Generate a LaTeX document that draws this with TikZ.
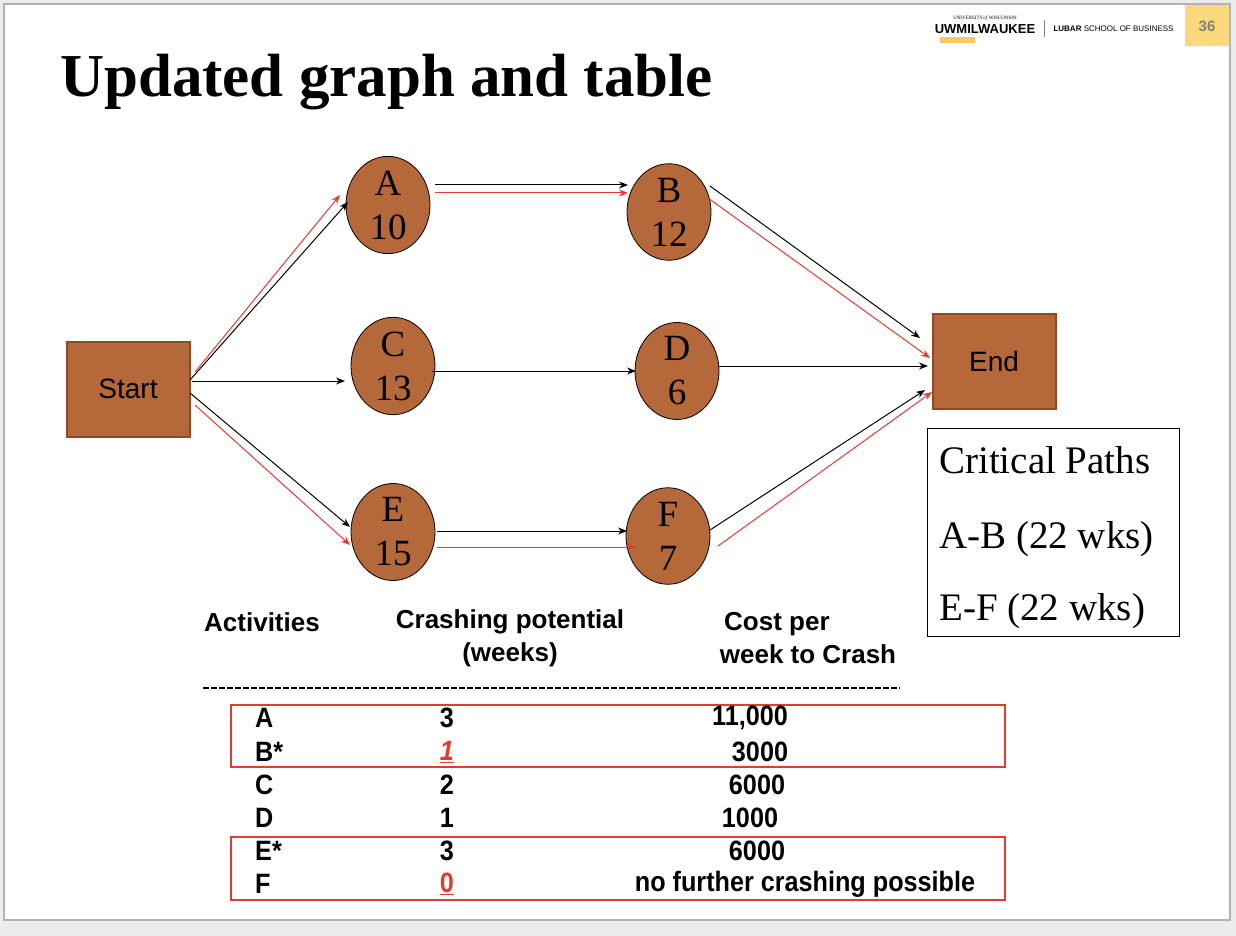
\documentclass[tikz,border=0pt]{standalone}
\usepackage{fontspec}
\setmainfont{Liberation Serif}
\setsansfont{Liberation Sans}
\newfontfamily\narrow[FakeStretch=0.9]{Liberation Sans}
\usetikzlibrary{arrows.meta,shapes.geometric}
\definecolor{brn}{HTML}{B5693A}
\definecolor{brd}{HTML}{8B4A2A}
\definecolor{rd}{HTML}{E8392F}
\definecolor{yel}{HTML}{F9D97A}
\tikzset{
 act/.style={ellipse,draw=black,thick,fill=brn,minimum width=84pt,minimum height=92pt,inner sep=0pt,align=center,font=\fontsize{37}{44}\selectfont},
 term/.style={rectangle,draw=brd,line width=2pt,fill=brn,minimum width=123pt,minimum height=95pt,font=\sffamily\fontsize{28}{30}\selectfont},
 blk/.style={-{Stealth[length=9pt,width=7pt]},line width=1pt},
 red/.style={-{Stealth[length=9pt,width=7pt]},line width=1pt,draw=rd,color=rd},
 hd/.style={font=\sffamily\bfseries\fontsize{26}{33}\selectfont,align=center},
 tb/.style={font=\narrow\bfseries\fontsize{28}{30}\selectfont,inner sep=0pt},
}
\begin{document}
\begin{tikzpicture}[x=1pt,y=-1pt]
\useasboundingbox (0,0) rectangle (1236,936);
\fill[gray!15] (0,0) rectangle (1236,936);
\fill[white,draw=gray!60,line width=1.5pt] (4,4) rectangle (1230,920);
\fill[yel] (1185,5) rectangle (1229,46);
\node[font=\sffamily\bfseries\fontsize{15}{18}\selectfont,text=gray] (pg) at (1207,26) {36};
\node[font=\fontsize{5}{6}\selectfont] (uw1) at (985,18) {UNIVERSITY\textit{of} WISCONSIN};
\node[font=\sffamily\bfseries\fontsize{13}{15}\selectfont] (uw2) at (985,29) {UWMILWAUKEE};
\fill[yel!80!orange] (940,37) rectangle (975,43);
\draw[gray] (1044,20) -- (1044,37);
\node[font=\sffamily\fontsize{8}{11}\selectfont,anchor=west] (lub) at (1050,29) {\textbf{LUBAR} SCHOOL OF BUSINESS};
\node[anchor=base west,font=\bfseries\fontsize{61}{64}\selectfont,inner sep=0pt] (title) at (60,97) {Updated graph and table};
\node[term] (S) at (128,389) {Start};
\node[term] (End) at (994,361) {End};
\node[act] (A) at (388,205) {A\\10};
\node[act] (B) at (669,212) {B\\12};
\node[act] (C) at (393,366) {C\\13};
\node[act] (D) at (677,371) {D\\6};
\node[act] (E) at (393,532) {E\\15};
\node[act] (F) at (668,536) {F\\7};
\foreach \n/\x/\y in {sa1/190/380, sa2/195/372, ta1/348/202, ta2/340/195,
 sc/192/381, tc/345/381, se1/190/393, te1/350/527, se2/195/405, te2/350/545,
 ab1/435/185, bb1/628/185, ab2/435/193, bb2/628/193,
 be1/710/186, eb1/920/338, be2/708/198, eb2/930/358,
 cd1/432/371, dd1/636/371, de1/718/366, ed1/928/366,
 ef1/437/531, fe1/627/531, ef2/437/547, fe2/636/547,
 fx1/710/530, xf1/925/390, fx2/718/546, xf2/932/392}
 \coordinate (\n) at (\x,\y);
\draw[blk] (sa1) -- (ta1);
\draw[red] (sa2) -- (ta2);
\draw[blk] (sc) -- (tc);
\draw[blk] (se1) -- (te1);
\draw[red] (se2) -- (te2);
\draw[blk] (ab1) -- (bb1);
\draw[red] (ab2) -- (bb2);
\draw[blk] (be1) -- (eb1);
\draw[red] (be2) -- (eb2);
\draw[blk] (cd1) -- (dd1);
\draw[blk] (de1) -- (ed1);
\draw[blk] (ef1) -- (fe1);
\draw[red] (ef2) -- (fe2);
\draw[blk] (fx1) -- (xf1);
\draw[red] (fx2) -- (xf2);
\node[draw=black,line width=1pt,minimum width=252pt,minimum height=208pt,anchor=north west] (cp) at (927,428) {};
\node[anchor=base west,font=\fontsize{39}{40}\selectfont,inner sep=0pt] (cp1) at (939,473) {Critical Paths};
\node[anchor=base west,font=\fontsize{39}{40}\selectfont,inner sep=0pt] (cp2) at (939,548) {A-B (22 wks)};
\node[anchor=base west,font=\fontsize{39}{40}\selectfont,inner sep=0pt] (cp3) at (939,620) {E-F (22 wks)};
\node[hd] (h1) at (262,622) {Activities};
\node[hd] (h2) at (510,638) {Crashing potential\\(weeks)};
\node[hd,align=left] (h3) at (808,638) {\,Cost per\\week to Crash};
\draw[line width=2.5pt,dash pattern=on 6pt off 2pt] (203,688) -- (900,688);
\draw[rd,line width=1.5pt] (231,705) rectangle (1005,767);
\draw[rd,line width=1.5pt] (231,837) rectangle (1005,900);
\foreach \n/\y/\a/\b in {r1/718/A/3, r3/785/C/2, r4/818/D/1, r5/851/E*/3}{
 \node[tb,anchor=west] (\n a) at (255,\y) {\a};
 \node[tb] (\n b) at (447,\y) {\b};
}
\node[tb,anchor=west] (r2a) at (255,752) {B*};
\node[tb,anchor=west] (r6a) at (255,884) {F};
\node[tb,text=rd] (r2b) at (447,752) {\underline{\itshape 1}};
\node[tb,text=rd] (r6b) at (447,884) {\underline{0}};
\node[tb] (r1c) at (750,718) {11,000};
\node[tb] (r2c) at (760,752) {3000};
\node[tb] (r3c) at (757,785) {6000};
\node[tb] (r4c) at (750,818) {1000};
\node[tb] (r5c) at (757,851) {6000};
\node[tb] (r6c) at (805,884) {no further crashing possible};
\end{tikzpicture}
\end{document}
